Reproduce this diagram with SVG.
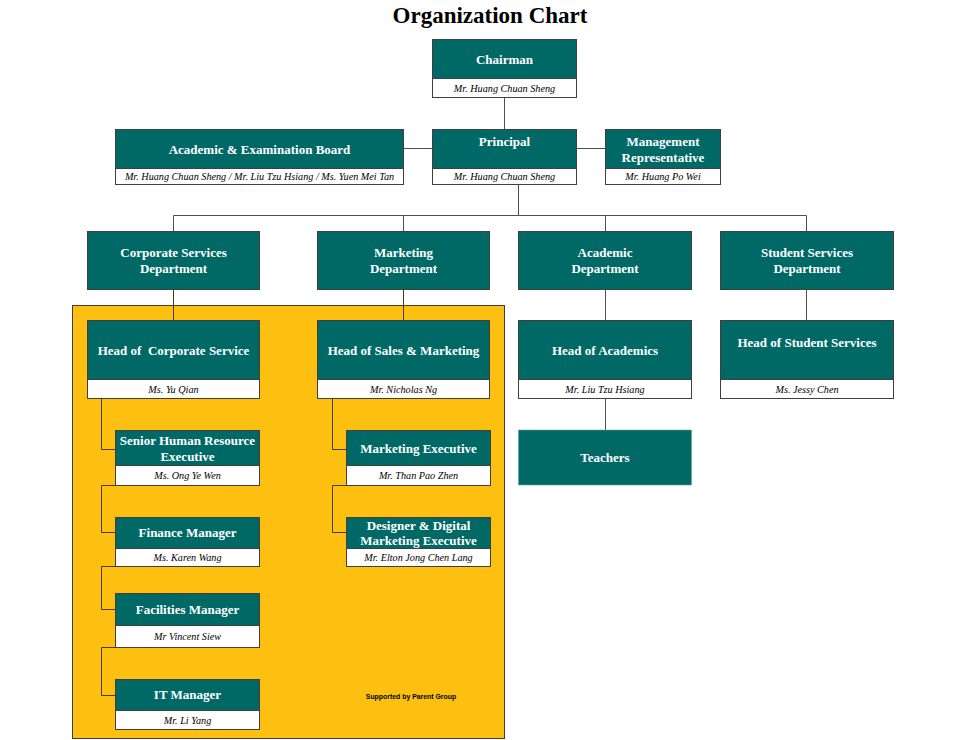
<svg xmlns="http://www.w3.org/2000/svg" width="980" height="740" viewBox="0 0 980 740">
<style>
.bg{fill:#fff}
.box{fill:#fff;stroke:#3f3f3f;stroke-width:1}
.hd{fill:#006966;stroke:#3f3f3f;stroke-width:1}
.t{font-family:"Liberation Serif",serif;font-weight:bold;font-size:13px;fill:#fff;text-anchor:middle}
.n{font-family:"Liberation Serif",serif;font-style:italic;font-size:10.2px;fill:#000;text-anchor:middle}
.title{font-family:"Liberation Serif",serif;font-weight:bold;font-size:23px;fill:#000;text-anchor:middle}
.c{fill:none;stroke:#505050;stroke-width:1}
.cy{fill:none;stroke:#4a3d08;stroke-width:1}
.note{font-family:"Liberation Sans",sans-serif;font-weight:bold;font-size:6.9px;fill:#000;text-anchor:middle}
</style>
<rect class="bg" x="0" y="0" width="980" height="740"/>
<text class="title" x="490" y="23">Organization Chart</text>
<rect id="parent-group" x="72.5" y="305.5" width="432" height="433" fill="#FDC010" stroke="#3f3f3f" stroke-width="1"/>
<text class="note" x="411" y="698.5">Supported by Parent Group</text>
<g id="connectors">
<path class="c" d="M504.5 97V129M403 148.5H432M576 148.5H605M518.5 184V215M173.5 231V215.5H806.5V231M403.5 215V231M605.5 215V231M806.5 289V320M605.5 289V320M605.5 398V430"/>
<path class="cy" d="M173.5 289V320M403.5 289V320M101.5 398V449.5H115M115 485.5H101.5V532.5H115M115 566.5H101.5V609.5H115M115 647.5H101.5V695.5H115M332.5 398V449.5H346M346 485.5H332.5V532.5H346"/>
</g>
<g id="chairman">
<rect class="box" x="432.5" y="39.5" width="144" height="58"/>
<rect class="hd" x="432.5" y="39.5" width="144" height="39"/>
<text class="t" x="504.5" y="64">Chairman</text>
<text class="n" x="504.5" y="92">Mr. Huang Chuan Sheng</text>
</g>
<g id="board">
<rect class="box" x="115.5" y="129.5" width="288" height="55"/>
<rect class="hd" x="115.5" y="129.5" width="288" height="39"/>
<text class="t" x="259.5" y="153.5">Academic &amp; Examination Board</text>
<text class="n" x="259.5" y="180">Mr. Huang Chuan Sheng / Mr. Liu Tzu Hsiang / Ms. Yuen Mei Tan</text>
</g>
<g id="principal">
<rect class="box" x="432.5" y="129.5" width="144" height="55"/>
<rect class="hd" x="432.5" y="129.5" width="144" height="39"/>
<text class="t" x="504.5" y="145.5">Principal</text>
<text class="n" x="504.5" y="180">Mr. Huang Chuan Sheng</text>
</g>
<g id="mgmt-rep">
<rect class="box" x="605.5" y="129.5" width="115" height="55"/>
<rect class="hd" x="605.5" y="129.5" width="115" height="39"/>
<text class="t" x="663" y="145.5">Management</text>
<text class="t" x="663" y="161.5">Representative</text>
<text class="n" x="663" y="180">Mr. Huang Po Wei</text>
</g>
<g id="corp-dept">
<rect class="hd" x="87.5" y="231.5" width="172" height="58"/>
<text class="t" x="173.5" y="257">Corporate Services</text>
<text class="t" x="173.5" y="273">Department</text>
</g>
<g id="mkt-dept">
<rect class="hd" x="317.5" y="231.5" width="172" height="58"/>
<text class="t" x="403.5" y="257">Marketing</text>
<text class="t" x="403.5" y="273">Department</text>
</g>
<g id="acad-dept">
<rect class="hd" x="518.5" y="231.5" width="173" height="58"/>
<text class="t" x="605" y="257">Academic</text>
<text class="t" x="605" y="273">Department</text>
</g>
<g id="stud-dept">
<rect class="hd" x="720.5" y="231.5" width="173" height="58"/>
<text class="t" x="807" y="257">Student Services</text>
<text class="t" x="807" y="273">Department</text>
</g>
<g id="head-corp">
<rect class="box" x="87.5" y="320.5" width="172" height="78"/>
<rect class="hd" x="87.5" y="320.5" width="172" height="59"/>
<text class="t" x="173.5" y="354.5" xml:space="preserve">Head of  Corporate Service</text>
<text class="n" x="173.5" y="392.5">Ms. Yu Qian</text>
</g>
<g id="head-sales">
<rect class="box" x="317.5" y="320.5" width="172" height="78"/>
<rect class="hd" x="317.5" y="320.5" width="172" height="59"/>
<text class="t" x="403.5" y="354.5">Head of Sales &amp; Marketing</text>
<text class="n" x="403.5" y="392.5">Mr. Nicholas Ng</text>
</g>
<g id="head-acad">
<rect class="box" x="518.5" y="320.5" width="173" height="78"/>
<rect class="hd" x="518.5" y="320.5" width="173" height="59"/>
<text class="t" x="605" y="354.5">Head of Academics</text>
<text class="n" x="605" y="392.5">Mr. Liu Tzu Hsiang</text>
</g>
<g id="head-stud">
<rect class="box" x="720.5" y="320.5" width="173" height="78"/>
<rect class="hd" x="720.5" y="320.5" width="173" height="59"/>
<text class="t" x="807" y="347">Head of Student Services</text>
<text class="n" x="807" y="392.5">Ms. Jessy Chen</text>
</g>
<g id="teachers">
<rect x="518.5" y="430" width="173" height="55" fill="#006966" stroke="#5fa3a0" stroke-width="0.6"/>
<text class="t" x="605" y="462">Teachers</text>
</g>
<g id="hr-exec">
<rect class="box" x="115.5" y="430.5" width="144" height="55"/>
<rect class="hd" x="115.5" y="430.5" width="144" height="35"/>
<text class="t" x="187.5" y="444.5">Senior Human Resource</text>
<text class="t" x="187.5" y="460.5">Executive</text>
<text class="n" x="187.5" y="478.5">Ms. Ong Ye Wen</text>
</g>
<g id="finance">
<rect class="box" x="115.5" y="517.5" width="144" height="49"/>
<rect class="hd" x="115.5" y="517.5" width="144" height="31"/>
<text class="t" x="187.5" y="537">Finance Manager</text>
<text class="n" x="187.5" y="561">Ms. Karen Wang</text>
</g>
<g id="facilities">
<rect class="box" x="115.5" y="593.5" width="144" height="54"/>
<rect class="hd" x="115.5" y="593.5" width="144" height="32"/>
<text class="t" x="187.5" y="614">Facilities Manager</text>
<text class="n" x="187.5" y="639.5">Mr Vincent Siew</text>
</g>
<g id="it">
<rect class="box" x="115.5" y="679.5" width="144" height="50"/>
<rect class="hd" x="115.5" y="679.5" width="144" height="31"/>
<text class="t" x="187.5" y="699">IT Manager</text>
<text class="n" x="187.5" y="723.5">Mr. Li Yang</text>
</g>
<g id="mkt-exec">
<rect class="box" x="346.5" y="430.5" width="144" height="55"/>
<rect class="hd" x="346.5" y="430.5" width="144" height="35"/>
<text class="t" x="418.5" y="452.5">Marketing Executive</text>
<text class="n" x="418.5" y="478.5">Mr. Than Pao Zhen</text>
</g>
<g id="designer">
<rect class="box" x="346.5" y="517.5" width="144" height="49"/>
<rect class="hd" x="346.5" y="517.5" width="144" height="31"/>
<text class="t" x="418.5" y="529.5">Designer &amp; Digital</text>
<text class="t" x="418.5" y="545">Marketing Executive</text>
<text class="n" x="418.5" y="561">Mr. Elton Jong Chen Lang</text>
</g>
</svg>
